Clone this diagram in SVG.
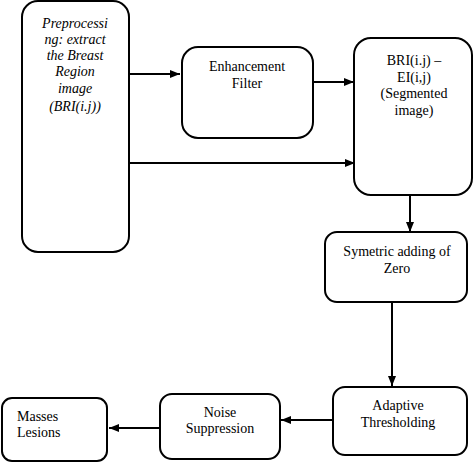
<svg xmlns="http://www.w3.org/2000/svg" width="474" height="463" viewBox="0 0 474 463">
<style>
.box{fill:#fff;stroke:#000;stroke-width:2}
.t{font-family:"Liberation Serif","Times New Roman",serif;font-size:14px;fill:#000;text-anchor:middle}
.i{font-style:italic}
.c{stroke:#000;stroke-width:2;fill:none}
</style>
<defs>
<marker id="ah" markerWidth="10" markerHeight="8" refX="10" refY="4" orient="auto" markerUnits="userSpaceOnUse">
<path d="M0,0 L10,4 L0,8 Z" fill="#000"/>
</marker>
</defs>
<rect width="474" height="463" fill="#fff"/>
<g id="connectors">
<line class="c" x1="129" y1="74" x2="180" y2="74" marker-end="url(#ah)"/>
<line class="c" x1="129" y1="163" x2="355" y2="163" marker-end="url(#ah)"/>
<line class="c" x1="313" y1="82" x2="354" y2="82" marker-end="url(#ah)"/>
<line class="c" x1="410" y1="195" x2="410" y2="232" marker-end="url(#ah)"/>
<line class="c" x1="392" y1="302" x2="392" y2="386" marker-end="url(#ah)"/>
<line class="c" x1="333" y1="420" x2="281" y2="420" marker-end="url(#ah)"/>
<line class="c" x1="160" y1="428" x2="109" y2="428" marker-end="url(#ah)"/>
</g>
<g id="preprocessing">
<rect class="box" x="22" y="1" width="107" height="251" rx="16"/>
<text class="t i" x="75" y="28">Preprocessi</text>
<text class="t i" x="75" y="44">ng: extract</text>
<text class="t i" x="75" y="60">the Breast</text>
<text class="t i" x="75" y="76">Region</text>
<text class="t i" x="75" y="93">image</text>
<text class="t i" x="75" y="111">(BRI(i.j))</text>
</g>
<g id="enhancement">
<rect class="box" x="182" y="47" width="131" height="91" rx="16"/>
<text class="t" x="247" y="71">Enhancement</text>
<text class="t" x="247" y="88">Filter</text>
</g>
<g id="segmented">
<rect class="box" x="354" y="38" width="118" height="157" rx="17"/>
<text class="t" x="414" y="65">BRI(i.j) –</text>
<text class="t" x="414" y="82">EI(i,j)</text>
<text class="t" x="414" y="98">(Segmented</text>
<text class="t" x="414" y="115">image)</text>
</g>
<g id="symetric">
<rect class="box" x="325" y="232" width="142" height="70" rx="12"/>
<text class="t" x="397" y="256">Symetric adding of</text>
<text class="t" x="397" y="273">Zero</text>
</g>
<g id="adaptive">
<rect class="box" x="333" y="387" width="134" height="68" rx="12"/>
<text class="t" x="398" y="410">Adaptive</text>
<text class="t" x="398" y="427">Thresholding</text>
</g>
<g id="noise">
<rect class="box" x="160" y="394" width="120" height="65" rx="12"/>
<text class="t" x="220" y="417">Noise</text>
<text class="t" x="220" y="433">Suppression</text>
</g>
<g id="masses">
<rect class="box" x="2" y="398" width="105" height="63" rx="10"/>
<text class="t" x="17" y="421" style="text-anchor:start">Masses</text>
<text class="t" x="17" y="437" style="text-anchor:start">Lesions</text>
</g>
</svg>
